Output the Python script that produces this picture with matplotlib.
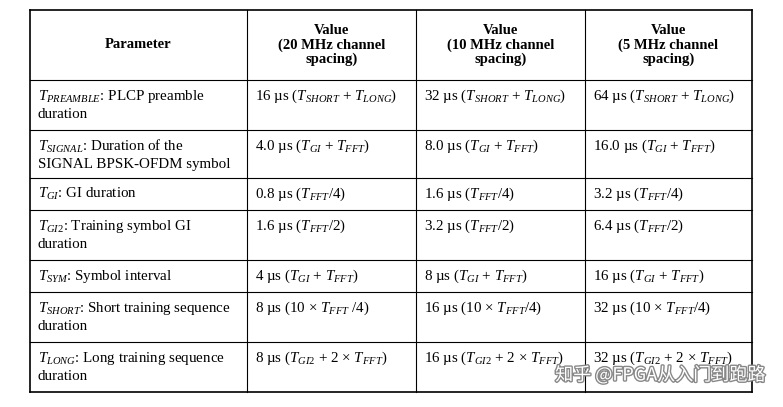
import matplotlib
matplotlib.use("Agg")
import matplotlib.pyplot as plt
import matplotlib.patheffects as pe

plt.rcParams['font.family'] = ['Liberation Serif', 'DejaVu Serif']
plt.rcParams['mathtext.fontset'] = 'custom'
plt.rcParams['mathtext.rm'] = 'Liberation Serif'
plt.rcParams['mathtext.it'] = 'Liberation Serif:italic'
plt.rcParams['mathtext.bf'] = 'Liberation Serif:bold'

headers = ["Parameter", "Value\n(20 MHz channel\nspacing)", "Value\n(10 MHz channel\nspacing)", "Value\n(5 MHz channel\nspacing)"]
param_col = [
    "$T_{PREAMBLE}$: PLCP preamble\nduration",
    "$T_{SIGNAL}$: Duration of the\nSIGNAL BPSK-OFDM symbol",
    "$T_{GI}$: GI duration",
    "$T_{GI2}$: Training symbol GI\nduration",
    "$T_{SYM}$: Symbol interval",
    "$T_{SHORT}$: Short training sequence\nduration",
    "$T_{LONG}$: Long training sequence\nduration",
]
col20 = ["16 µs ($T_{SHORT}$ + $T_{LONG}$)", "4.0 µs ($T_{GI}$ + $T_{FFT}$)", "0.8 µs ($T_{FFT}$/4)",
         "1.6 µs ($T_{FFT}$/2)", "4 µs ($T_{GI}$ + $T_{FFT}$)", "8 µs (10 × $T_{FFT}$ /4)",
         "8 µs ($T_{GI2}$ + 2 × $T_{FFT}$)"]
col10 = ["32 µs ($T_{SHORT}$ + $T_{LONG}$)", "8.0 µs ($T_{GI}$ + $T_{FFT}$)", "1.6 µs ($T_{FFT}$/4)",
         "3.2 µs ($T_{FFT}$/2)", "8 µs ($T_{GI}$ + $T_{FFT}$)", "16 µs (10 × $T_{FFT}$/4)",
         "16 µs ($T_{GI2}$ + 2 × $T_{FFT}$)"]
col5 = ["64 µs ($T_{SHORT}$ + $T_{LONG}$)", "16.0 µs ($T_{GI}$ + $T_{FFT}$)", "3.2 µs ($T_{FFT}$/4)",
        "6.4 µs ($T_{FFT}$/2)", "16 µs ($T_{GI}$ + $T_{FFT}$)", "32 µs (10 × $T_{FFT}$/4)",
        "32 µs ($T_{GI2}$ + 2 × $T_{FFT}$)"]

xs = [30, 247, 416, 585, 752]
ys = [10, 80, 130, 178, 210, 260, 292, 342, 392]

fig = plt.figure(figsize=(7.83, 4.07), dpi=100)
ax = fig.add_axes([0, 0, 1, 1])
ax.set_xlim(0, 783); ax.set_ylim(407, 0); ax.axis('off')

for x in xs:
    ax.plot([x, x], [ys[0], ys[-1]], color='black', lw=0.8 if x not in (xs[0], xs[-1]) else 1.2)
for i, y in enumerate(ys):
    lw = 1.2 if i in (0, len(ys) - 1) else 0.8
    ax.plot([xs[0], xs[-1]], [y, y], color='black', lw=lw)

fs = 10.8
for j, h in enumerate(headers):
    ax.text((xs[j] + xs[j + 1]) / 2, (ys[0] + ys[1]) / 2, h, ha='center', va='center',
            fontsize=10.5, fontweight='bold', linespacing=1.1)

cols = [param_col, col20, col10, col5]
for j, col in enumerate(cols):
    for i, t in enumerate(col):
        ax.text(xs[j] + 8, ys[i + 1] + 8, t, ha='left', va='top', fontsize=fs, linespacing=1.25)

ax.text(765, 375, "知乎 @FPGA从入门到跑路", ha='right', va='center', fontsize=13,
        color='white', family=['Noto Sans CJK SC', 'DejaVu Sans'],
        path_effects=[pe.withStroke(linewidth=2, foreground='#888888')])

fig.savefig("out.png", dpi=100)
